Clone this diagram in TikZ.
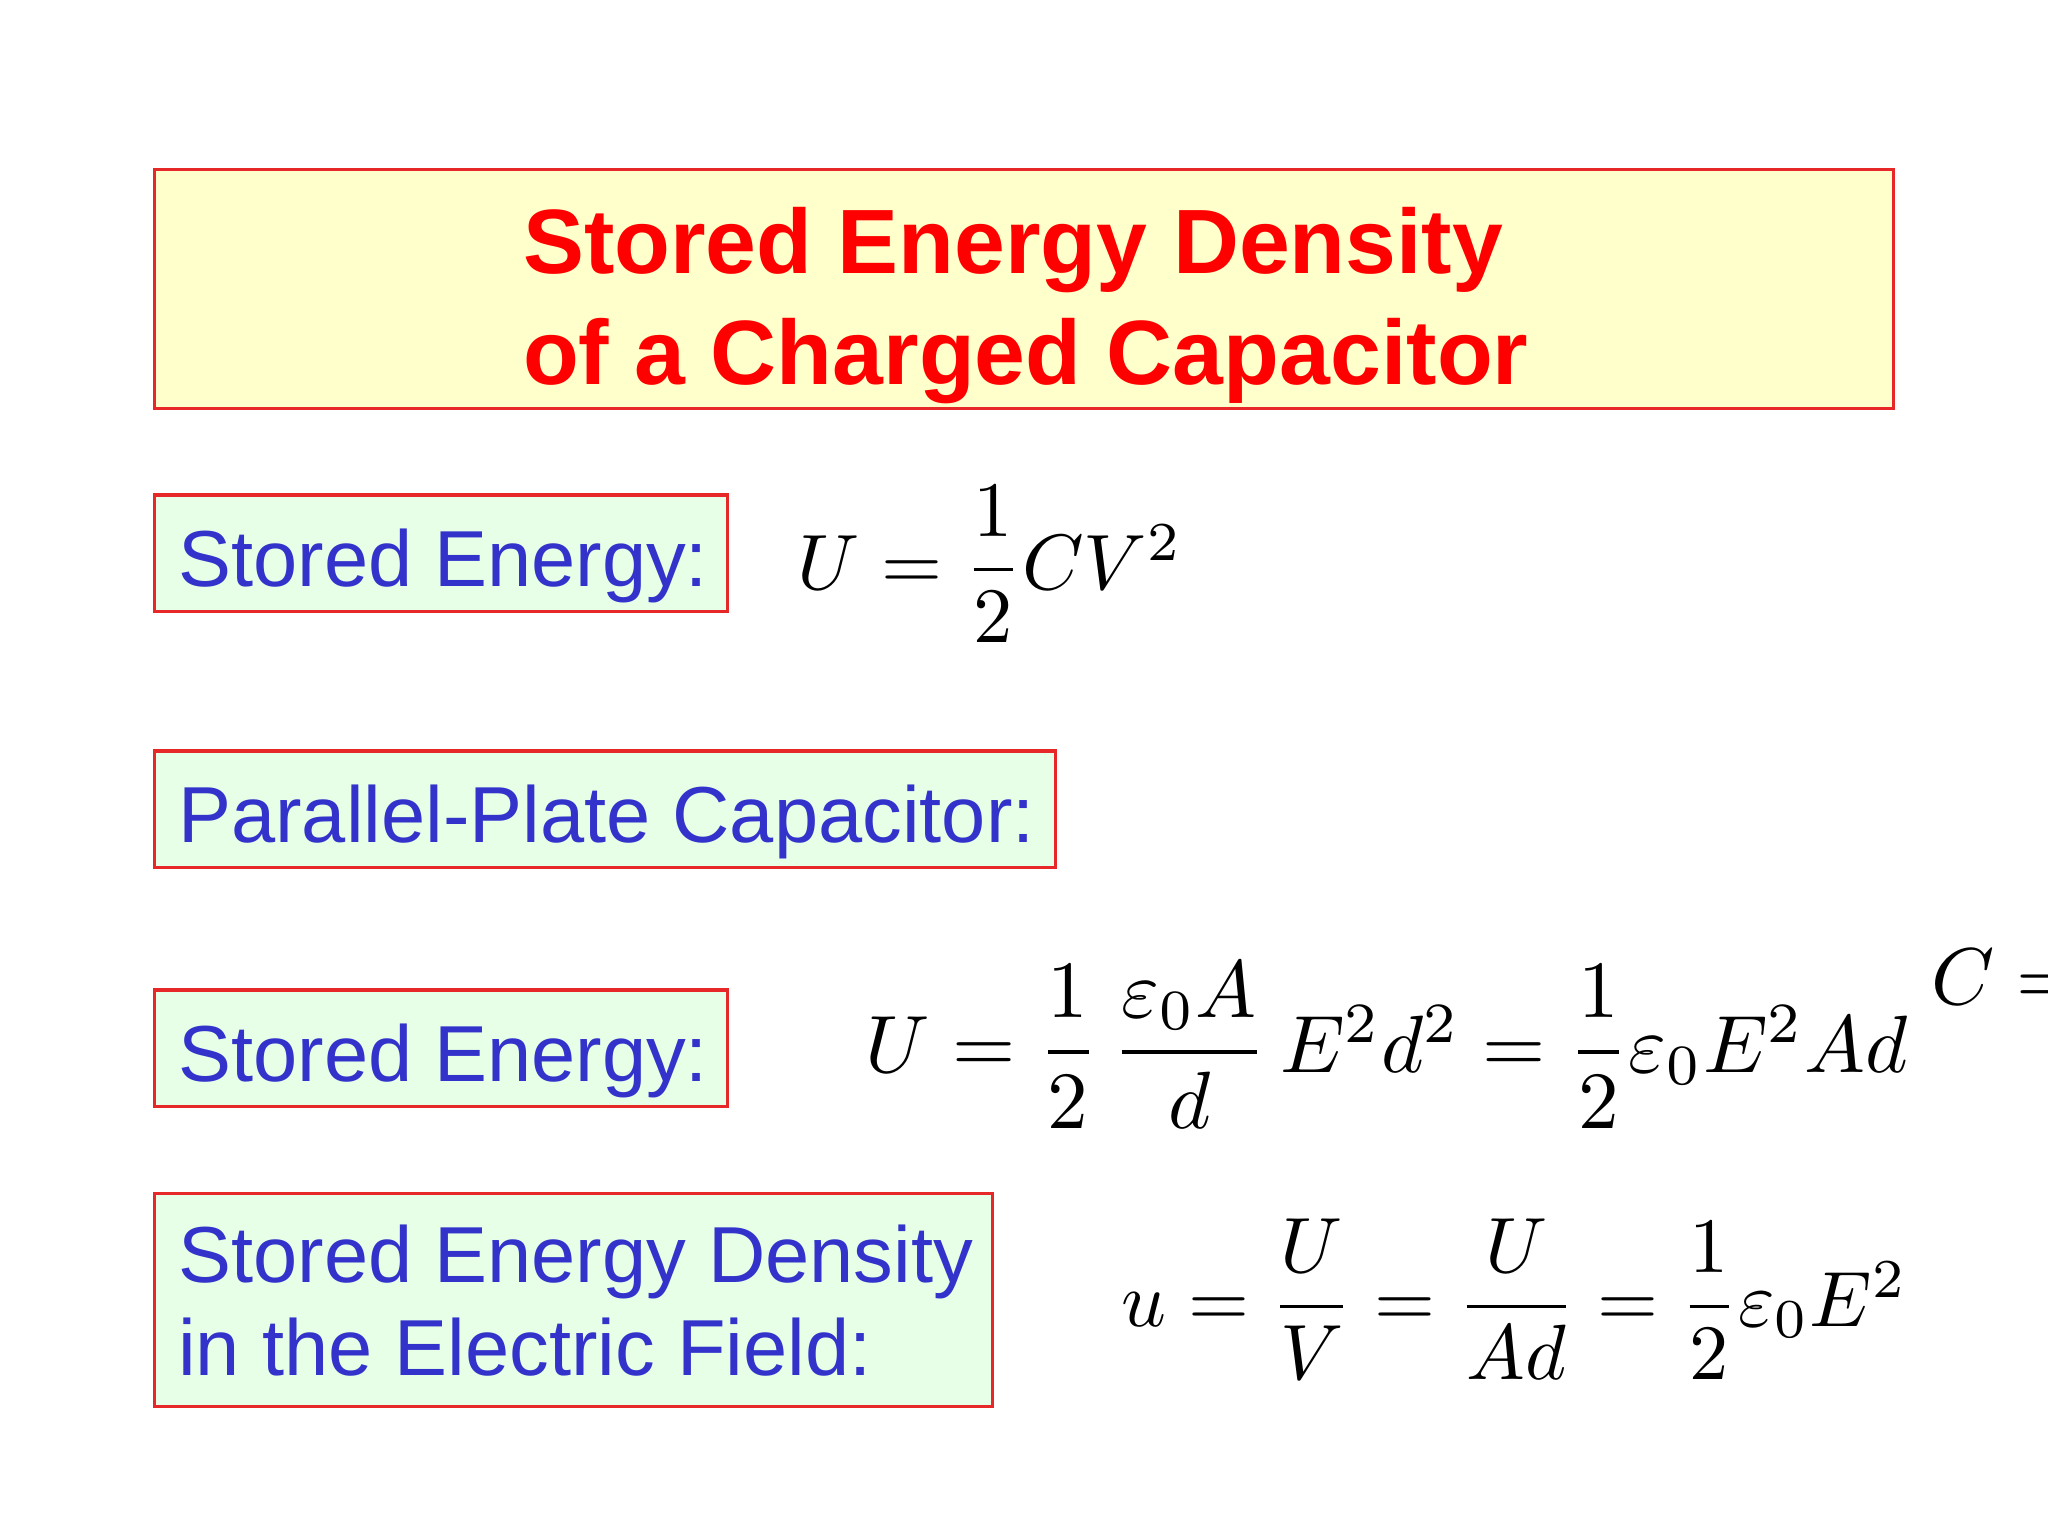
\documentclass[tikz,border=0pt]{standalone}
\usepackage{fontspec}
\usepackage{amsmath}
\setmainfont{Liberation Sans}
\definecolor{tred}{RGB}{255,0,0}
\definecolor{bred}{RGB}{230,40,40}
\definecolor{tyel}{RGB}{255,255,204}
\definecolor{lgreen}{RGB}{230,255,230}
\definecolor{lblue}{RGB}{51,51,204}
\tikzset{
 lbox/.style={draw=bred,line width=0.9pt,fill=lgreen},
 lbl/.style={anchor=base west,text=lblue,font=\fontsize{22.6}{26.6}\selectfont,align=left,inner sep=0pt},
 eq/.style={inner sep=0pt}
}
\begin{document}
\begin{tikzpicture}[x=0.013061cm,y=-0.013061cm]
\useasboundingbox[fill=white] (0,0) rectangle (1568,1176);
\begin{scope}
\clip (0,0) rectangle (1568,1176);
% title
\draw[draw=bred,line width=0.9pt,fill=tyel] (118,130) rectangle (1450,313);
\node[anchor=north west,text=tred,font=\fontsize{26}{31.6}\selectfont\bfseries,align=left,inner sep=0pt] (title) at (400,158) {Stored Energy Density\\of a Charged Capacitor};
% boxes
\draw[lbox] (118,379) rectangle (557,468);
\node[lbl] (l1) at (136,449) {Stored Energy:};
\draw[lbox] (118,575) rectangle (808,664);
\node[lbl] (l2) at (136,645) {Parallel-Plate Capacitor:};
\draw[lbox] (118,758) rectangle (557,847);
\node[lbl] (l3) at (136,828) {Stored Energy:};
\draw[lbox] (118,914) rectangle (760,1077);
\node[lbl,anchor=north west] (l4) at (136,937) {Stored Energy Density\\in the Electric Field:};
% equations
\node[eq,anchor=west] (e1) at (610,432) {\resizebox{3.85cm}{!}{$U=\dfrac{1}{2}CV^2$}};
\node[eq,anchor=west] (e2) at (662,800) {\resizebox{10.42cm}{!}{$U=\dfrac{1}{2}\,\dfrac{\varepsilon_0A}{d}\,E^2d^2=\dfrac{1}{2}\varepsilon_0E^2Ad$}};
\node[eq,anchor=west] (e2b) at (1478,748) {\resizebox{!}{0.55cm}{$C=$}};
\node[eq,anchor=west] (e3) at (858,995) {\resizebox{7.86cm}{!}{$u=\dfrac{U}{V}=\dfrac{U}{Ad}=\dfrac{1}{2}\varepsilon_0E^2$}};
\end{scope}
\end{tikzpicture}
\end{document}
